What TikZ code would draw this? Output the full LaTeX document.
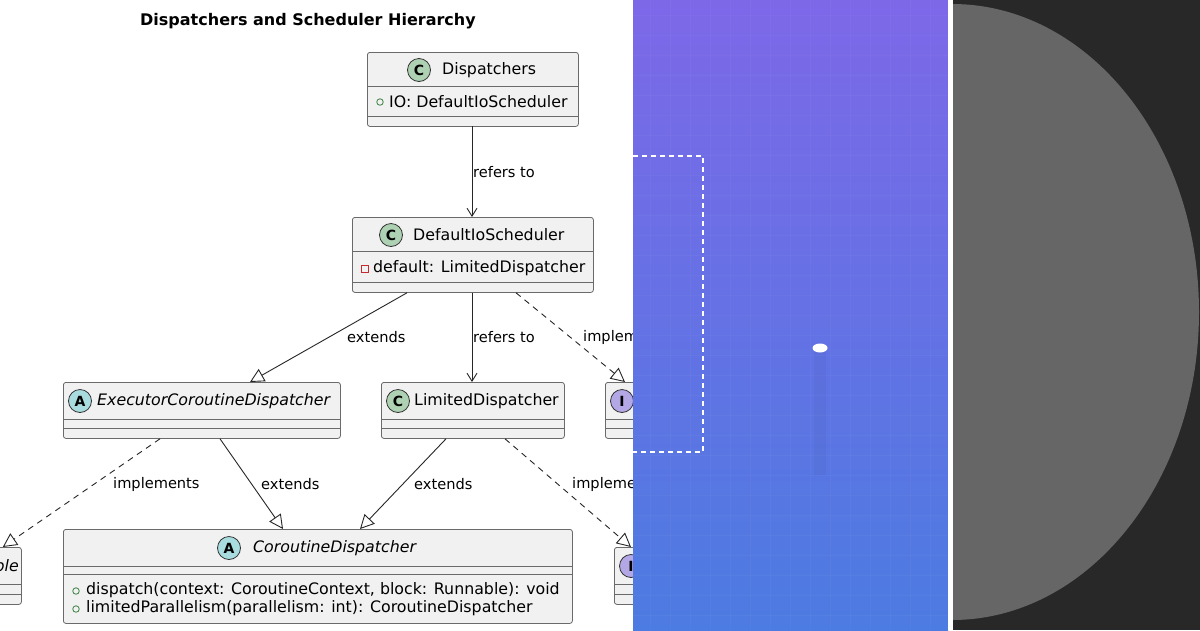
\documentclass[tikz,border=0pt]{standalone}
\usepackage{fontspec}
\setmainfont{DejaVu Sans}
\usetikzlibrary{arrows.meta,calc}
\definecolor{boxfill}{HTML}{F1F1F1}
\definecolor{boxline}{HTML}{6A6A6A}
\definecolor{cgreen}{HTML}{ADD1B2}
\definecolor{acyan}{HTML}{A9DCDF}
\definecolor{ipurple}{HTML}{B4A7E5}
\definecolor{ptop}{HTML}{7D68E8}
\definecolor{pbot}{HTML}{4C7BE1}
\definecolor{darkbg}{HTML}{282828}
\definecolor{circ}{HTML}{666666}
\definecolor{pubgreen}{HTML}{38803E}
\definecolor{privred}{HTML}{C82930}
\tikzset{
  x=1pt,y=-1pt,
  umlbox/.style={draw=boxline,fill=boxfill,line width=0.8pt,rounded corners=2.5pt,anchor=north west,inner sep=0pt},
  sep/.style={draw=boxline,line width=0.8pt},
  badge/.style={circle,draw=black!80,line width=0.8pt,minimum size=23pt,inner sep=0pt,font=\fontsize{14}{14}\selectfont\bfseries},
  cname/.style={font=\fontsize{15.8}{17}\selectfont,anchor=west,inner sep=0pt},
  iname/.style={font=\fontsize{15.8}{17}\selectfont\itshape,anchor=west,inner sep=0pt},
  member/.style={font=\fontsize{15.8}{17}\selectfont,anchor=west,inner sep=0pt},
  lbl/.style={font=\fontsize{14.6}{16}\selectfont,anchor=west,inner sep=0pt},
  conn/.style={draw=black!85,line width=0.9pt},
  ext/.style={conn,-{Triangle[open,length=14pt,width=14pt]}},
  impl/.style={conn,dashed,dash pattern=on 6pt off 5pt,-{Triangle[open,length=14pt,width=14pt]}},
  ref/.style={conn,-{Straight Barb[length=8pt,width=10pt]}},
  pub/.style={circle,draw=pubgreen,line width=0.8pt,minimum size=6.5pt,inner sep=0pt},
  priv/.style={rectangle,draw=privred,line width=0.8pt,minimum size=7pt,inner sep=0pt}
}
\begin{document}
\begin{tikzpicture}
\useasboundingbox (0,0) rectangle (1200,630);
\clip (0,0) rectangle (1200,630);
\fill[white] (0,0) rectangle (1200,630);

\node[font=\fontsize{16}{18}\selectfont\bfseries,anchor=center] (title) at (308,21) {Dispatchers and Scheduler Hierarchy};

% Dispatchers
\node[umlbox,minimum width=211pt,minimum height=74pt] (disp) at (367,52) {};
\draw[sep] (367,86) -- (578,86); \draw[sep] (367,116) -- (578,116);
\node[badge,fill=cgreen] (dispB) at (419,70) {C};
\node[cname] (dispN) at (442,70) {Dispatchers};
\node[pub] (dispV) at (380,102) {};
\node[member] (dispM) at (389,102) {IO: DefaultIoScheduler};

% DefaultIoScheduler
\node[umlbox,minimum width=241pt,minimum height=75pt] (dio) at (352,217) {};
\draw[sep] (352,251) -- (593,251); \draw[sep] (352,282) -- (593,282);
\node[badge,fill=cgreen] (dioB) at (391,235) {C};
\node[cname] (dioN) at (413,235) {DefaultIoScheduler};
\node[priv] (dioV) at (365,269) {};
\node[member] (dioM) at (373,268) {default: LimitedDispatcher};

% ExecutorCoroutineDispatcher
\node[umlbox,minimum width=277pt,minimum height=56pt] (exe) at (63,382) {};
\draw[sep] (63,419) -- (340,419); \draw[sep] (63,428) -- (340,428);
\node[badge,fill=acyan] (exeB) at (80,401) {A};
\node[iname] (exeN) at (97,401) {ExecutorCoroutineDispatcher};

% LimitedDispatcher
\node[umlbox,minimum width=183pt,minimum height=56pt] (lim) at (381,382) {};
\draw[sep] (381,419) -- (564,419); \draw[sep] (381,428) -- (564,428);
\node[badge,fill=cgreen] (limB) at (398,401) {C};
\node[cname] (limN) at (414,401) {LimitedDispatcher};

% Interface right
\node[umlbox,minimum width=80pt,minimum height=56pt] (ifa) at (605,382) {};
\draw[sep] (605,419) -- (685,419); \draw[sep] (605,428) -- (685,428);
\node[badge,fill=ipurple] (ifaB) at (622,401) {I};

% CoroutineDispatcher
\node[umlbox,minimum width=509pt,minimum height=94pt] (cor) at (63,529) {};
\draw[sep] (63,566) -- (572,566); \draw[sep] (63,574) -- (572,574);
\node[badge,fill=acyan] (corB) at (229,548) {A};
\node[iname] (corN) at (253,548) {CoroutineDispatcher};
\node[pub] (corV1) at (76,591) {};
\node[member] (corM1) at (86,590) {dispatch(context: CoroutineContext, block: Runnable): void};
\node[pub] (corV2) at (76,609) {};
\node[member] (corM2) at (86,608) {limitedParallelism(parallelism: int): CoroutineDispatcher};

% Runnable (left, cut)
\node[umlbox,minimum width=100pt,minimum height=57pt] (run) at (-79,547) {};
\draw[sep] (-79,584) -- (21,584); \draw[sep] (-79,594) -- (21,594);
\node[iname,anchor=east] (runN) at (19,566) {Runnable};

% Interface bottom right
\node[umlbox,minimum width=80pt,minimum height=57pt] (ifb) at (614,547) {};
\draw[sep] (614,584) -- (694,584); \draw[sep] (614,594) -- (694,594);
\node[badge,fill=ipurple] (ifbB) at (631,566) {I};

% connectors
\coordinate (c1) at (472,126);
\coordinate (c2) at (472,217);
\draw[ref] (c1) -- (c2);
\node[lbl] (l1) at (473,172) {refers to};

\draw[ext] ($(dio.south west)+(55,0)$) -- ($(exe.north west)+(187,0)$);
\node[lbl] (l2) at (347,337) {extends};
\draw[ref] ($(dio.south west)+(120,0)$) -- ($(lim.north west)+(91,0)$);
\node[lbl] (l3) at (473,337) {refers to};
\draw[impl] ($(dio.south west)+(164,0)$) -- ($(ifa.north west)+(20,0)$);
\node[lbl] (l4) at (583,337) {implements};

\draw[impl] ($(exe.south west)+(97,0)$) -- ($(run.north east)+(-19,0)$);
\node[lbl] (l5) at (113,484) {implements};
\draw[ext] ($(exe.south west)+(157,0)$) -- ($(cor.north west)+(220,0)$);
\node[lbl] (l6) at (261,484) {extends};
\draw[ext] ($(lim.south west)+(65,0)$) -- ($(cor.north west)+(297,0)$);
\node[lbl] (l7) at (414,484) {extends};
\draw[impl] ($(lim.south west)+(124,0)$) -- ($(ifb.north west)+(17,0)$);
\node[lbl] (l8) at (572,484) {implements};

% purple panel
\shade[top color=ptop,bottom color=pbot] (633,0) rectangle (948,630);
\begin{scope}[white,opacity=0.03,line width=1pt]
\foreach \x in {650,670,...,940} \draw (\x,0) -- (\x,630);
\foreach \y in {15,35,...,630} \draw (633,\y) -- (948,\y);
\end{scope}
\draw[white,line width=1.3pt,dash pattern=on 5pt off 4pt] (633,156) -- (703,156) -- (703,452) -- (633,452);
\fill[black,opacity=0.03] (814,350) rectangle (826,475);
\fill[white] (820,348) ellipse (7.5pt and 4.5pt);

% dark panel
\fill[white] (948,0) rectangle (953,630);
\fill[darkbg] (953,0) rectangle (1200,630);
\begin{scope}
\clip (953,0) rectangle (1200,630);
\fill[circ] (952,312) ellipse (247pt and 308pt);
\end{scope}
\end{tikzpicture}
\end{document}
